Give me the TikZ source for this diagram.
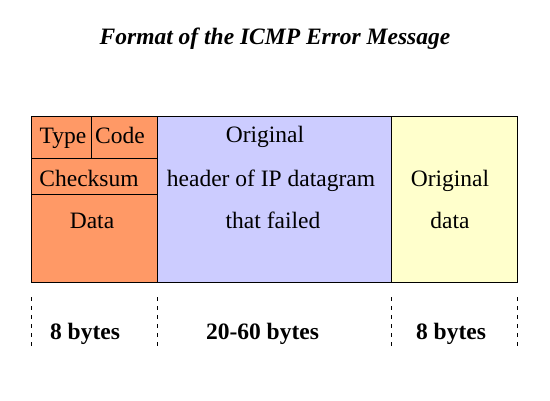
\documentclass[tikz,border=0pt]{standalone}
\usepackage{fontspec}
\setmainfont{Liberation Serif}
\begin{document}
\begin{tikzpicture}[x=1pt,y=-1pt,
  cell/.style={draw=black,line width=1pt,inner sep=0pt,outer sep=0pt,anchor=north west},
  txt/.style={inner sep=0pt,anchor=base,font=\fontsize{23.5}{28}\selectfont},
  lbl/.style={txt,font=\fontsize{23.5}{28}\selectfont\bfseries},
  sep/.style={draw=black,line width=1pt,dash pattern=on 4pt off 5pt}]
\definecolor{icmporange}{HTML}{FF9966}
\definecolor{hdrblue}{HTML}{CCCCFF}
\definecolor{datayellow}{HTML}{FFFFCC}
\useasboundingbox (0,0) rectangle (550,400);
\node[txt,font=\fontsize{23.5}{28}\selectfont\bfseries\itshape] (title) at (275,44) {Format of the ICMP Error Message};
% cells
\node[cell,fill=icmporange,minimum width=60pt,minimum height=42pt] (type) at (31,116) {};
\node[cell,fill=icmporange,minimum width=66pt,minimum height=42pt] (code) at (91,116) {};
\node[cell,fill=icmporange,minimum width=126pt,minimum height=36pt] (checks) at (31,158) {};
\node[cell,fill=icmporange,minimum width=126pt,minimum height=88pt] (data) at (31,194) {};
\node[cell,fill=hdrblue,minimum width=234pt,minimum height=166pt] (hdr) at (157,116) {};
\node[cell,fill=datayellow,minimum width=126pt,minimum height=166pt] (orig) at (391,116) {};
% texts
\node[txt] (ttype) at (63,143) {Type};
\node[txt] (tcode) at (120,143) {Code};
\node[txt] (tchk) at (89,186) {Checksum};
\node[txt] (tdata) at (92,228.5) {Data};
\node[txt] (th1) at (265,142.5) {Original};
\node[txt] (th2) at (271,186) {header of IP datagram};
\node[txt] (th3) at (273,228.5) {that failed};
\node[txt] (to1) at (450,186) {Original};
\node[txt] (to2) at (450,228.5) {data};
% dashed separators
\coordinate (s1t) at (31,297); \coordinate (s1b) at (31,347);
\coordinate (s2t) at (157,297); \coordinate (s2b) at (157,347);
\coordinate (s3t) at (391,297); \coordinate (s3b) at (391,347);
\coordinate (s4t) at (517,297); \coordinate (s4b) at (517,347);
\draw[sep] (s1t) -- (s1b);
\draw[sep] (s2t) -- (s2b);
\draw[sep] (s3t) -- (s3b);
\draw[sep] (s4t) -- (s4b);
% size labels
\node[lbl] (b1) at (85,339) {8 bytes};
\node[lbl] (b2) at (262.5,339) {20-60 bytes};
\node[lbl] (b3) at (451,339) {8 bytes};
\end{tikzpicture}
\end{document}
